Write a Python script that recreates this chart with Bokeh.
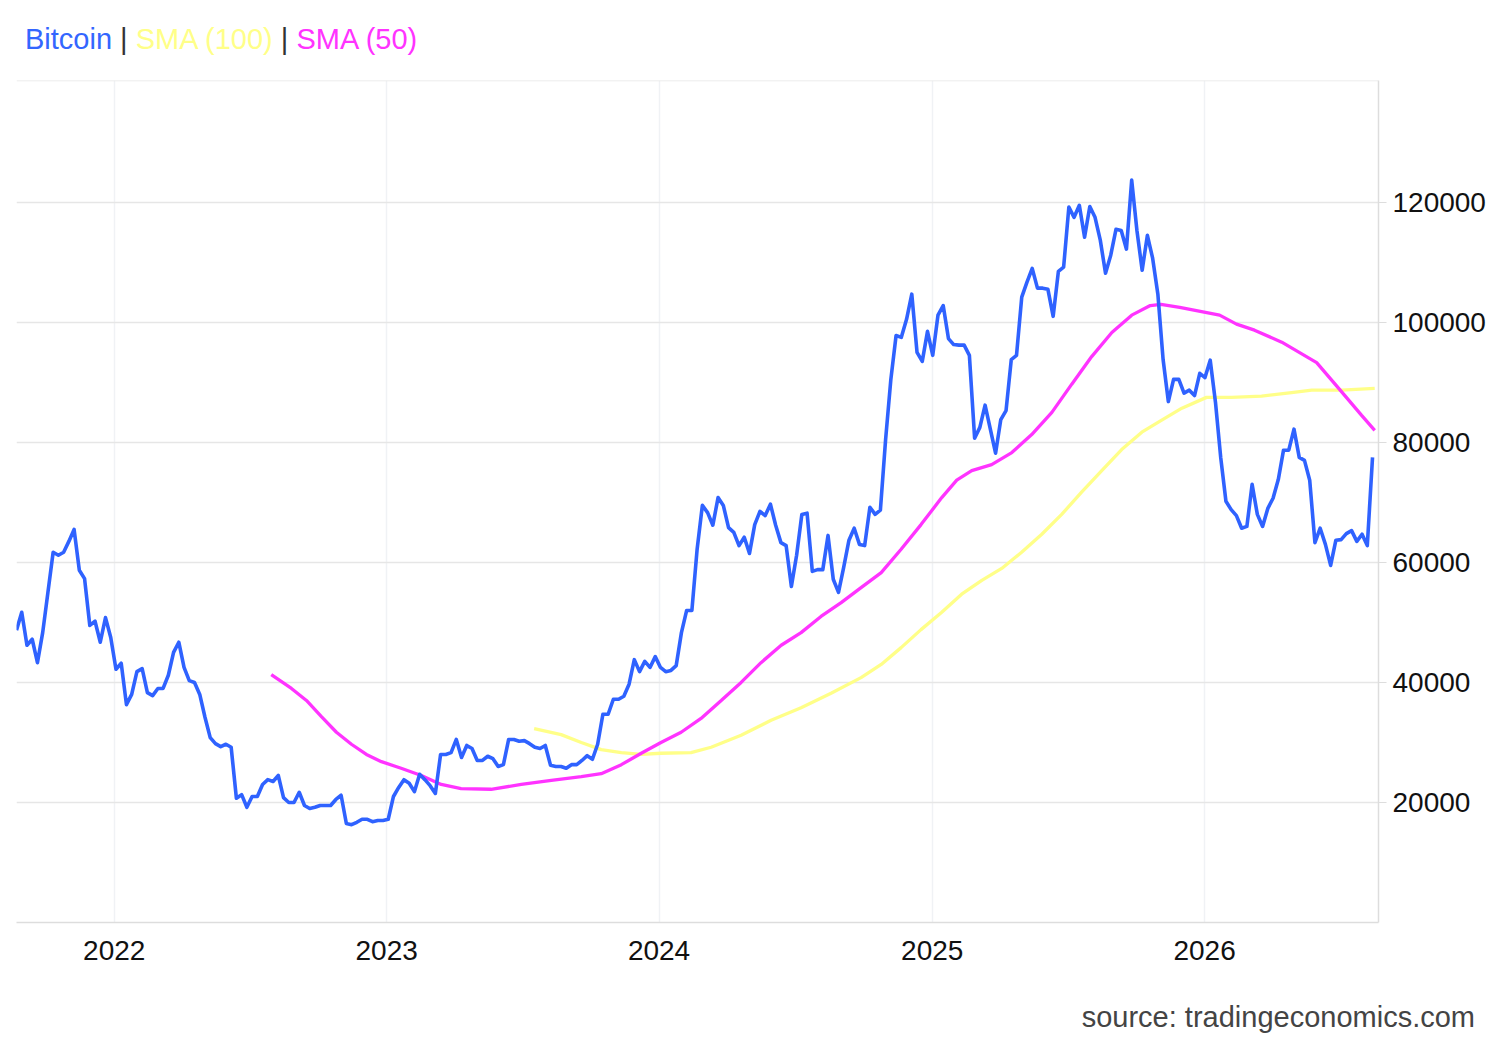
import pandas as pd
from bokeh.plotting import figure
from bokeh.models import ColumnDataSource, FixedTicker, DatetimeTickFormatter, Range1d, Div, Span
from bokeh.layouts import column
from bokeh.embed import file_html
from bokeh.resources import INLINE

# Bitcoin weekly closes (thousands USD), Aug 2021 .. Aug 2026
btc = [48.7, 51.7, 46.2, 47.2, 43.3, 48.3, 55.0, 61.7, 61.2, 61.7, 63.5, 65.5, 58.7, 57.3, 49.5, 50.2, 46.7, 50.8, 47.5,
       42.2, 43.2, 36.3, 38.0, 41.8, 42.3, 38.3, 37.8, 39.0, 39.0, 41.2, 45.0, 46.7, 42.5, 40.3, 40.0, 38.0, 34.2,
       30.8, 29.8, 29.3, 29.7, 29.2, 20.7, 21.3, 19.2, 21.0, 21.0, 23.0, 23.8, 23.5, 24.5, 20.8, 20.0, 20.0, 21.7,
       19.5, 19.0, 19.2, 19.5, 19.5, 19.5, 20.5, 21.2, 16.5, 16.3, 16.7, 17.2, 17.2, 16.8, 17.0, 17.0, 17.2, 21.0,
       22.5, 23.8, 23.2, 21.8, 24.7, 23.8, 22.8, 21.5, 28.0, 28.0, 28.3, 30.5, 27.5, 29.5, 29.0, 27.0, 27.0, 27.7,
       27.3, 26.0, 26.3, 30.5, 30.5, 30.2, 30.3, 29.8, 29.2, 29.0, 29.5, 26.2, 26.0, 26.0, 25.7, 26.3, 26.3, 27.0,
       27.8, 27.2, 29.7, 34.7, 34.7, 37.2, 37.2, 37.7, 39.7, 43.8, 41.8, 43.5, 42.5, 44.3, 42.5, 41.8, 42.0, 42.8,
       48.3, 52.0, 52.0, 62.2, 69.5, 68.3, 66.2, 70.8, 69.5, 65.8, 65.0, 62.8, 64.2, 61.5, 66.3, 68.5, 67.8, 69.7,
       66.2, 63.3, 62.8, 56.0, 61.2, 68.0, 68.2, 58.5, 58.8, 58.8, 64.5, 57.2, 55.0, 59.2, 63.7, 65.7, 63.0, 62.8,
       69.2, 68.0, 68.7, 80.5, 90.5, 97.8, 97.5, 100.5, 104.7, 95.0, 93.5, 98.5, 94.5, 101.2, 102.8, 97.3, 96.3,
       96.2, 96.2, 94.5, 80.7, 82.5, 86.2, 82.2, 78.2, 83.8, 85.3, 93.8, 94.5, 104.2, 106.7, 109.0, 105.7, 105.7,
       105.5, 101.0, 108.5, 109.2, 119.2, 117.5, 119.5, 114.2, 119.3, 117.5, 113.7, 108.2, 111.2, 115.5, 115.3,
       112.2, 123.7, 115.3, 108.7, 114.5, 110.7, 104.7, 93.8, 86.8, 90.5, 90.5, 88.2, 88.7, 87.8, 91.5, 90.8, 93.7,
       86.7, 77.5, 70.2, 68.8, 67.8, 65.7, 66.0, 73.0, 68.0, 66.0, 69.0, 70.7, 73.8, 78.7, 78.7, 82.2, 77.5, 77.0,
       73.7, 63.3, 65.7, 63.0, 59.5, 63.7, 63.8, 64.8, 65.3, 63.5, 64.7, 62.8, 77.5]
btc_start, btc_end = "2021-08-23", "2026-08-14"

# SMA (50) – decimal years and values (thousands)
sma50_t = [2022.576, 2022.650, 2022.705, 2022.760, 2022.815, 2022.870, 2022.925, 2022.980, 2023.053, 2023.127,
           2023.200, 2023.273, 2023.383, 2023.494, 2023.604, 2023.714, 2023.787, 2023.861, 2023.934, 2024.007,
           2024.081, 2024.154, 2024.228, 2024.301, 2024.374, 2024.448, 2024.521, 2024.594, 2024.668, 2024.741,
           2024.815, 2024.888, 2024.961, 2025.035, 2025.090, 2025.145, 2025.218, 2025.292, 2025.365, 2025.439,
           2025.512, 2025.585, 2025.659, 2025.732, 2025.800, 2025.839, 2025.908, 2026.055, 2026.117, 2026.183,
           2026.283, 2026.411, 2026.488, 2026.576, 2026.624]
sma50_v = [41.3, 39.0, 37.0, 34.3, 31.7, 29.7, 28.0, 26.8, 25.7, 24.5, 23.0, 22.3, 22.2, 23.0, 23.7, 24.3, 24.8,
           26.3, 28.2, 30.0, 31.7, 34.0, 37.0, 40.0, 43.3, 46.2, 48.3, 51.0, 53.3, 55.8, 58.3, 62.2, 66.3, 70.8,
           73.7, 75.3, 76.3, 78.3, 81.3, 85.0, 89.7, 94.3, 98.3, 101.2, 102.8, 103.0, 102.5, 101.2, 99.7, 98.7,
           96.7, 93.3, 89.2, 84.5, 82.0]

# SMA (100)
sma100_t = [2023.541, 2023.640, 2023.714, 2023.787, 2023.861, 2023.934, 2024.007, 2024.117, 2024.191, 2024.301,
            2024.411, 2024.521, 2024.631, 2024.741, 2024.815, 2024.888, 2024.961, 2025.035, 2025.108, 2025.182,
            2025.255, 2025.328, 2025.402, 2025.475, 2025.548, 2025.622, 2025.695, 2025.769, 2025.842, 2025.916,
            2026.007, 2026.099, 2026.209, 2026.319, 2026.393, 2026.503, 2026.624]
sma100_v = [32.3, 31.3, 30.0, 28.8, 28.3, 28.0, 28.2, 28.3, 29.2, 31.2, 33.7, 35.8, 38.2, 40.8, 43.0, 45.8, 48.8,
            51.7, 54.7, 57.0, 59.0, 61.7, 64.7, 68.0, 71.7, 75.3, 78.8, 81.7, 83.7, 85.7, 87.5, 87.5, 87.7, 88.3,
            88.7, 88.7, 89.0]

year_ticks = ["2022", "2023", "2024", "2025", "2026"]
y_ticks = [20000, 40000, 60000, 80000, 100000, 120000]


def dec_to_dt(y):
    yr = int(y)
    start = pd.Timestamp(f"{yr}-01-01")
    return start + pd.Timedelta(days=(y - yr) * 365.25)


btc_dates = pd.date_range(btc_start, btc_end, periods=len(btc))
src_btc = ColumnDataSource(dict(x=btc_dates, y=[v * 1000 for v in btc]))
src50 = ColumnDataSource(dict(x=[dec_to_dt(t) for t in sma50_t], y=[v * 1000 for v in sma50_v]))
src100 = ColumnDataSource(dict(x=[dec_to_dt(t) for t in sma100_t], y=[v * 1000 for v in sma100_v]))

FONT = "Liberation Sans"

p = figure(x_axis_type="datetime", frame_width=1362, frame_height=842, output_backend="svg",
           toolbar_location=None, y_axis_location="right", min_border_left=16, min_border_top=6,
           min_border_bottom=60, min_border_right=100)
p.x_range = Range1d(pd.Timestamp("2021-08-23"), pd.Timestamp("2026-08-22"))
p.y_range = Range1d(0, 140300)
p.outline_line_color = None

p.line("x", "y", source=src100, color="#ffff88", line_width=3.3)
p.line("x", "y", source=src50, color="#ff33ff", line_width=3.3)
p.line("x", "y", source=src_btc, color="#2f62ff", line_width=3.6, line_join="round")

p.xaxis.ticker = FixedTicker(ticks=[pd.Timestamp(f"{y}-01-01").value / 1e6 for y in year_ticks])
p.xaxis.formatter = DatetimeTickFormatter(years="%Y", months="%Y", days="%Y", hours="%Y")
p.yaxis.ticker = FixedTicker(ticks=y_ticks)
for ax in (p.xaxis, p.yaxis):
    ax.major_label_text_font = FONT
    ax.major_label_text_font_size = "28px"
    ax.major_label_text_color = "#111111"
    ax.minor_tick_line_color = None
    ax.axis_line_color = "#dddddd"
    ax.axis_line_width = 1.5
p.xaxis.major_tick_line_color = None
p.yaxis.major_tick_line_color = "#dddddd"
p.yaxis.major_tick_out = 8
p.yaxis.major_tick_in = 0
p.xaxis.major_label_standoff = 12
p.yaxis.major_label_standoff = 6
p.yaxis.formatter.use_scientific = False
p.ygrid.grid_line_color = "#e6e6e6"
p.ygrid.grid_line_width = 1.5
p.xgrid.grid_line_color = "#f0f2f5"
p.xgrid.grid_line_width = 1.5
p.add_layout(Span(location=140300, dimension="width", line_color="#e6e6e6", line_width=1.5))

header = Div(text=(f'<div style="font-family:{FONT};font-size:29px;padding-left:20px;padding-top:14px;">'
                   '<span style="color:#3366ff">Bitcoin</span> <span style="color:#333">|</span> '
                   '<span style="color:#ffff88">SMA (100)</span> <span style="color:#333">|</span> '
                   '<span style="color:#ff33ff">SMA (50)</span></div>'), width=1480, height=64)
footer = Div(text=(f'<div style="font-family:{FONT};font-size:29px;color:#444;text-align:right;width:1470px;padding-top:10px;">'
                   'source: tradingeconomics.com</div>'), width=1480, height=50)

layout = column(header, p, footer, spacing=0)
open("out.html", "w").write(file_html(layout, INLINE))
